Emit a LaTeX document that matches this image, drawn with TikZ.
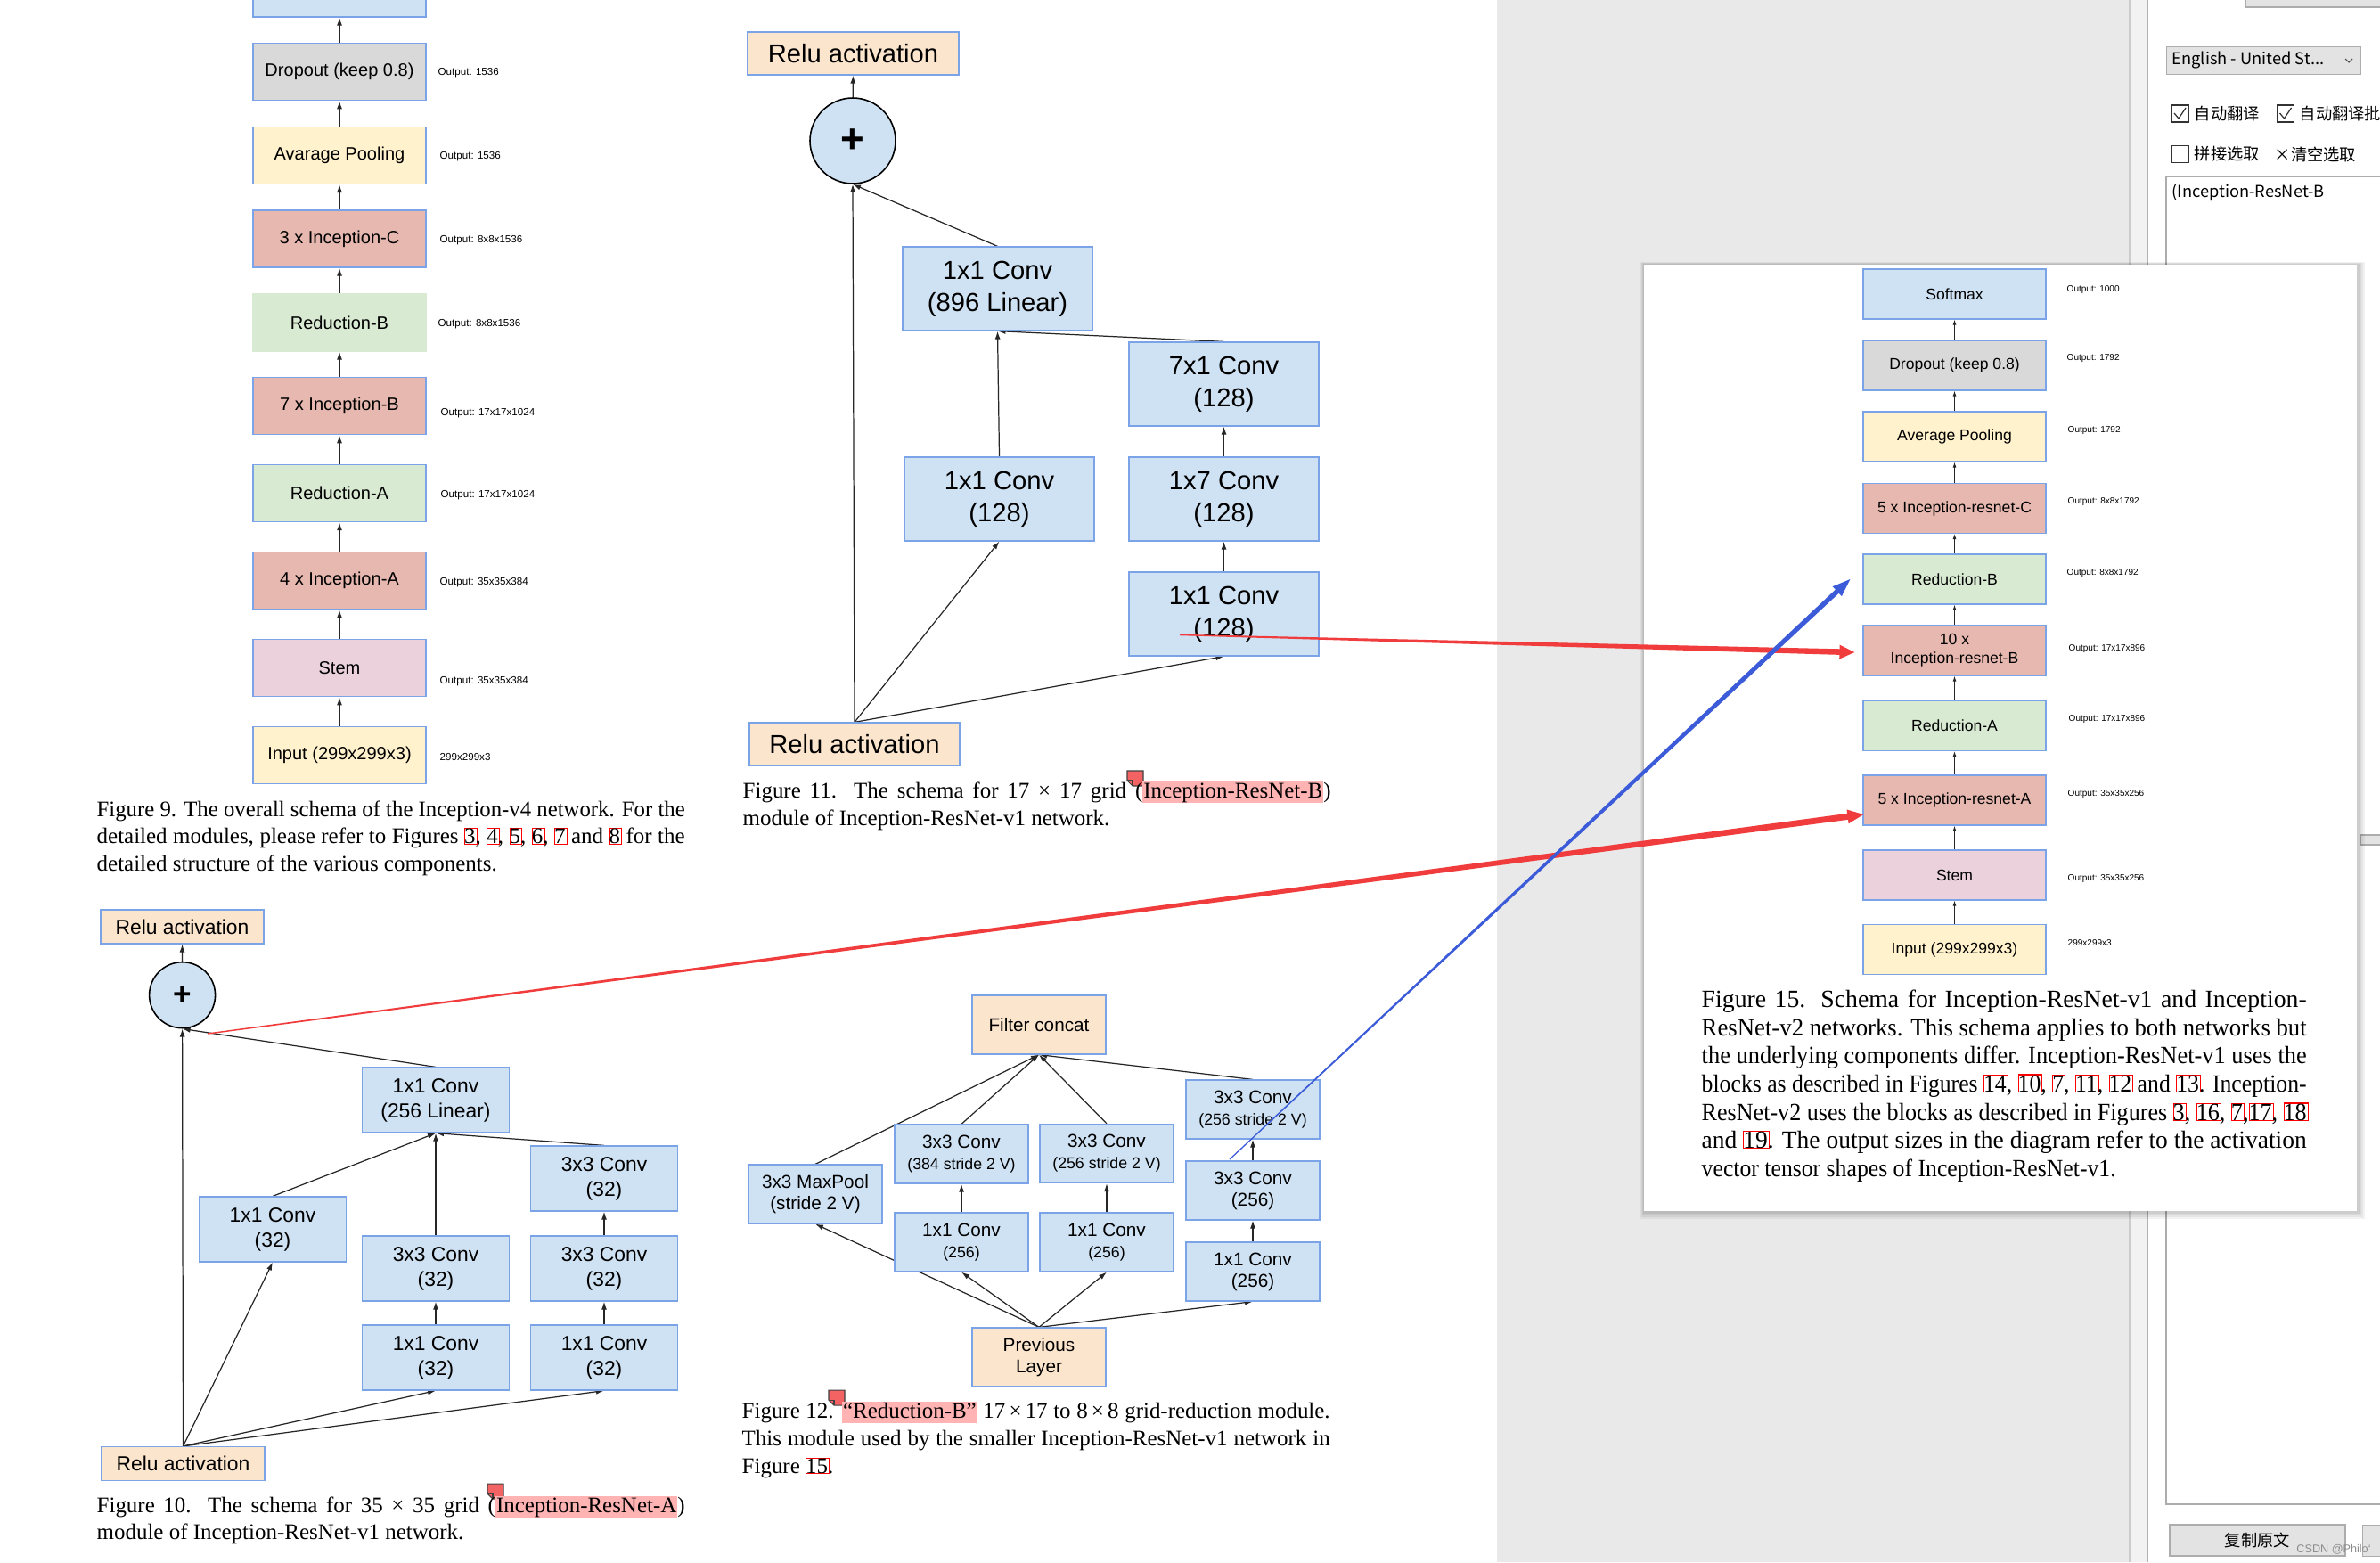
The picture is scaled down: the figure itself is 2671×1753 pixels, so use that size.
\documentclass[tikz,border=0pt]{standalone}
\usepackage{fontspec}
\usepackage{graphicx}
\setmainfont{Liberation Serif}
\setsansfont{Liberation Sans}
\newfontfamily\cjk{Noto Sans CJK SC}
\usetikzlibrary{arrows.meta,calc}
\definecolor{cbox}{HTML}{CFE2F3}
\definecolor{cline}{HTML}{7BA3E8}
\definecolor{cgray}{HTML}{D9D9D9}
\definecolor{cyel}{HTML}{FFF2CC}
\definecolor{csal}{HTML}{E6B8AF}
\definecolor{cgrn}{HTML}{D9EAD3}
\definecolor{cpink}{HTML}{EAD1DC}
\definecolor{cpeach}{HTML}{FCE5CD}
\definecolor{appgray}{HTML}{E9E9E9}
\definecolor{stripgray}{HTML}{F2F2F2}
\definecolor{annored}{HTML}{F03C3C}
\definecolor{annoblue}{HTML}{3B5BD9}
\definecolor{hlpink}{HTML}{FFB3B3}
\definecolor{linkred}{HTML}{FF0000}
\definecolor{uigray}{HTML}{E3E3E3}
\definecolor{uiline}{HTML}{ADADAD}
\pgfdeclarelayer{bg}
\pgfdeclarelayer{edges}
\pgfsetlayers{bg,edges,main}
\newcommand\rf[1]{\leavevmode\rlap{\color{linkred}\setlength\fboxsep{0pt}\setlength\fboxrule{0.3pt}\fbox{\phantom{#1}}}#1}
\newcommand\hl[1]{{\setlength\fboxsep{0.3pt}\colorbox{hlpink}{\vphantom{()}#1}}}
\newcommand\sm{\fontsize{5.05}{6.8}\selectfont}
\newlength\jw
\newcommand\jline[2]{\settowidth\jw{#2}\ifdim\jw>#1\relax\resizebox{#1}{\height}{#2}\else\makebox[#1][s]{#2}\fi}
\newcommand\sticky[2]{%
  \filldraw[fill=annored!80, draw=black!75, line width=0.3pt] (#1,#2) -- ++(18,0) -- ++(0,17) -- ++(-12,0) -- ++(-6,-6) -- cycle;
  \draw[black!75, line width=0.3pt] (#1,#2) ++(0,11) -- ++(6,0) -- ++(0,6);}
\newcommand\taper[7]{%
  \coordinate (tpH) at ($(#3)!#7!(#2)$);
  \fill[#1] ($(#2)!#4!90:(#3)$) -- ($(tpH)!#5!90:(#3)$) -- ($(tpH)!#6!90:(#3)$) -- (#3)
    -- ($(tpH)!#6!-90:(#3)$) -- ($(tpH)!#5!-90:(#3)$) -- ($(#2)!#4!-90:(#3)$) -- cycle;}
\begin{document}
\begin{tikzpicture}[x=0.1mm, y=-0.1mm,
  box/.style={draw=cline, line width=0.35pt, inner sep=0pt, align=center},
  v4box/.style={box, minimum width=19.4mm, minimum height=6.4mm, font=\sffamily\fontsize{5.7}{6.8}\selectfont},
  rnbox/.style={box, minimum width=20.5mm, minimum height=5.6mm, font=\sffamily\fontsize{5}{6}\selectfont},
  kbox/.style={box, fill=cbox, minimum width=21.3mm, minimum height=9.4mm, font=\sffamily\fontsize{8.3}{10.2}\selectfont},
  abox/.style={box, fill=cbox, minimum width=16.5mm, minimum height=7.3mm, font=\sffamily\fontsize{6.5}{7.9}\selectfont},
  rbox/.style={box, fill=cbox, minimum width=15mm, minimum height=6.6mm, font=\sffamily\fontsize{5.9}{6.8}\selectfont},
  sumnode/.style={circle, draw=black, fill=cbox, line width=0.45pt, inner sep=0pt, font=\sffamily\bfseries},
  outlbl/.style={anchor=west, inner sep=0pt, font=\sffamily\fontsize{3.3}{4}\selectfont},
  outlbs/.style={anchor=west, inner sep=0pt, font=\sffamily\fontsize{2.85}{3.5}\selectfont},
  arr/.style={-{Latex[length=0.9mm,width=0.6mm]}, line width=0.35pt, black!85},
  arrs/.style={-{Latex[length=0.6mm,width=0.4mm]}, line width=0.25pt, black!85},
  captxt/.style={anchor=base west, inner sep=0pt, font=\fontsize{7.1}{8.5}\selectfont},
  captxtr/.style={anchor=base west, inner sep=0pt, font=\fontsize{7.9}{9}\selectfont},
  ui/.style={anchor=west, inner sep=0pt, font=\cjk\fontsize{5.2}{6}\selectfont},
  chk/.style={draw=black!80, line width=0.3pt, fill=white, minimum size=1.9mm, inner sep=0pt}]
\useasboundingbox (0,0) rectangle (2671,1753);

%page, viewer and side panel
\begin{pgfonlayer}{bg}
  \fill[white] (0,0) rectangle (2671,1753);
  \fill[appgray] (1680,0) rectangle (2390,1753);
  \fill[stripgray] (2390,0) rectangle (2410,1753);
  \draw[black!20] (2390,0) -- (2390,1753);
  \draw[black!30] (2410,0) -- (2410,1753);
  \draw[uiline] (2690,198) -- (2431,198) -- (2431,1688) -- (2690,1688);
  \draw[uiline, fill=uigray] (2649,937) rectangle (2690,948);
  \foreach \s in {9,7,5,3}
    \fill[black, opacity=0.05] (1845-\s/2,297-\s/3) rectangle (2645+\s,1359+\s);
  \fill[white] (1845,297) rectangle (2645,1359);
\end{pgfonlayer}

\draw[uiline, fill=uigray] (2520,-5) rectangle (2690,8);
\node[draw=uiline, fill=uigray, anchor=north west, minimum width=21.8mm, minimum height=3.1mm] (langBox) at (2431,52) {};
\node[ui] (langTxt) at (2437,68) {English - United St...};
\draw[black!70, line width=0.3pt] (2632,66) -- (2636,70) -- (2640,66);
\node[chk] (chkA) at (2446.5,127.5) {};
\draw[black!80, line width=0.35pt] (2440,127) -- (2445,133) -- (2453,121);
\node[ui] (chkAtxt) at (2462,128) {自动翻译};
\node[chk] (chkB) at (2565,127.5) {};
\draw[black!80, line width=0.35pt] (2558.5,127) -- (2563.5,133) -- (2571.5,121);
\node[ui] (chkBtxt) at (2580,128) {自动翻译批};
\node[chk] (chkC) at (2446.5,173) {};
\node[ui] (chkCtxt) at (2462,173) {拼接选取};
\node[ui] (clearTxt) at (2552,173) {×清空选取};
\node[ui] (srcTxt) at (2437,216) {(Inception-ResNet-B};
\node[draw=uiline, fill=uigray, minimum width=19.7mm, minimum height=3.5mm, inner sep=0pt, font=\cjk\fontsize{5.2}{6}\selectfont] (copyBtn) at (2533.5,1728.5) {复制原文};
\node[draw=uiline, fill=uigray, anchor=north west, minimum width=4mm, minimum height=3.5mm] (nextBtn) at (2651,1711) {};
\node[inner sep=0pt, text=black!45, font=\sffamily\fontsize{3.6}{4}\selectfont] (mark) at (2619,1739) {CSDN @Philo`};

%figure 9
\node[v4box, fill=cbox] (vSoft) at (381,-13) {};
\node[v4box, fill=cgray] (vDrop) at (381,80.7) {Dropout (keep 0.8)};
\node[v4box, fill=cyel] (vPool) at (381,174.4) {Avarage Pooling};
\node[v4box, fill=csal] (vIncC) at (381,268) {3 x Inception-C};
\node[v4box, fill=cgrn, draw=cgrn] (vRedB) at (381,362) {Reduction-B};
\node[v4box, fill=csal] (vIncB) at (381,455.7) {7 x Inception-B};
\node[v4box, fill=cgrn] (vRedA) at (381,553.6) {Reduction-A};
\node[v4box, fill=csal] (vIncA) at (381,651.8) {4 x Inception-A};
\node[v4box, fill=cpink] (vStem) at (381,749.8) {Stem};
\node[v4box, fill=cyel] (vIn) at (381,847.6) {Input (299x299x3)};

\node[outlbl] (vOutDrop) at (491,82) {Output: 1536};
\node[outlbl] (vOutPool) at (493,175.4) {Output: 1536};
\node[outlbl] (vOutIncC) at (493,270) {Output: 8x8x1536};
\node[outlbl] (vOutRedB) at (491,363.5) {Output: 8x8x1536};
\node[outlbl] (vOutIncB) at (494,463.7) {Output: 17x17x1024};
\node[outlbl] (vOutRedA) at (494,555.5) {Output: 17x17x1024};
\node[outlbl] (vOutIncA) at (493,653.7) {Output: 35x35x384};
\node[outlbl] (vOutStem) at (493,764.7) {Output: 35x35x384};
\node[outlbl] (vOutIn) at (493,849.5) {299x299x3};

\draw[arr] (vIn) -- (vStem);
\draw[arr] (vStem) -- (vIncA);
\draw[arr] (vIncA) -- (vRedA);
\draw[arr] (vRedA) -- (vIncB);
\draw[arr] (vIncB) -- (vRedB);
\draw[arr] (vRedB) -- (vIncC);
\draw[arr] (vIncC) -- (vPool);
\draw[arr] (vPool) -- (vDrop);
\draw[arr] (vDrop) -- (vSoft);

\node[captxt] (cap9a) at (108,916) {\jline{66mm}{Figure 9. The overall schema of the Inception-v4 network. For the}};
\node[captxt] (cap9b) at (108,946.5) {\jline{66mm}{detailed modules, please refer to Figures \rf{3}, \rf{4}, \rf{5}, \rf{6}, \rf{7} and \rf{8} for the}};
\node[captxt] (cap9c) at (108,977.7) {detailed structure of the various components.};

%figure 11
\node[kbox, fill=cpeach, minimum width=23.7mm, minimum height=4.8mm] (kReluT) at (957.5,60) {Relu activation};
\node[sumnode, minimum size=9.6mm, font=\sffamily\bfseries\fontsize{13}{13}\selectfont] (kSum) at (957,158) {+};
\node[kbox] (kLin) at (1119.5,324) {1x1 Conv\\(896 Linear)};
\node[kbox] (k7x1) at (1373.5,431) {7x1 Conv\\(128)};
\node[kbox] (kA1) at (1121.5,560) {1x1 Conv\\(128)};
\node[kbox] (k1x7) at (1373.5,560) {1x7 Conv\\(128)};
\node[kbox] (kB1) at (1373.5,689) {1x1 Conv\\(128)};
\node[kbox, fill=cpeach, minimum width=23.6mm, minimum height=4.8mm] (kReluB) at (959,835) {Relu activation};

\begin{pgfonlayer}{edges}
  \draw[arr] (kSum) -- (kReluT);
  \draw[arr] (kLin.north) -- (kSum.south);
  \draw[arr] (kReluB.north) -- (kSum.south);
  \draw[arr] (kA1.north) -- (kLin.south);
  \draw[arr] (k7x1.north) -- (kLin.south);
  \draw[arr] (k1x7) -- (k7x1);
  \draw[arr] (kB1) -- (k1x7);
  \draw[arr] (kReluB.north) -- (kA1.south);
  \draw[arr] (kReluB.north) -- (kB1.south);
\end{pgfonlayer}

\sticky{1265}{865}
\node[captxt] (cap11a) at (833,895) {\jline{66mm}{Figure 11. The schema for 17 × 17 grid (\hl{Inception-ResNet-B})}};
\node[captxt] (cap11b) at (833,926) {module of Inception-ResNet-v1 network.};

%figure 10
\node[abox, fill=cpeach, minimum width=18.3mm, minimum height=3.8mm] (aReluT) at (204.5,1040) {Relu activation};
\node[sumnode, minimum size=7.4mm, font=\sffamily\bfseries\fontsize{10}{10}\selectfont] (aSum) at (204.6,1116.7) {+};
\node[abox] (aLin) at (489,1234.5) {1x1 Conv\\(256 Linear)};
\node[abox] (aC3b) at (678,1322.5) {3x3 Conv\\(32)};
\node[abox] (aL1) at (306,1379.5) {1x1 Conv\\(32)};
\node[abox] (aM3) at (489,1423.5) {3x3 Conv\\(32)};
\node[abox] (aC3a) at (678,1423.5) {3x3 Conv\\(32)};
\node[abox] (aM1) at (489,1523.5) {1x1 Conv\\(32)};
\node[abox] (aR1) at (678,1523.5) {1x1 Conv\\(32)};
\node[abox, fill=cpeach, minimum width=18.3mm, minimum height=3.8mm] (aReluB) at (205.5,1642.5) {Relu activation};

\begin{pgfonlayer}{edges}
  \draw[arr] (aSum) -- (aReluT);
  \draw[arr] (aLin.north) -- (aSum.south);
  \draw[arr] (aReluB.north) -- (aSum.south);
  \draw[arr] (aL1.north) -- (aLin.south);
  \draw[arr] (aM3) -- (aLin);
  \draw[arr] (aC3b.north) -- (aLin.south);
  \draw[arr] (aC3a) -- (aC3b);
  \draw[arr] (aM1) -- (aM3);
  \draw[arr] (aR1) -- (aC3a);
  \draw[arr] (aReluB.north) -- (aL1.south);
  \draw[arr] (aReluB.north) -- (aM1.south);
  \draw[arr] (aReluB.north) -- (aR1.south);
\end{pgfonlayer}

\sticky{547}{1665}
\node[captxt] (cap10a) at (108,1697) {\jline{66mm}{Figure 10. The schema for 35 × 35 grid (\hl{Inception-ResNet-A})}};
\node[captxt] (cap10b) at (108,1727) {module of Inception-ResNet-v1 network.};

%figure 12
\node[rbox, fill=cpeach] (cCat) at (1166,1150) {Filter concat};
\node[rbox] (cPool) at (915,1340) {3x3 MaxPool\\(stride 2 V)};
\node[rbox] (cA3) at (1079,1295) {3x3 Conv\\{\sm(384 stride 2 V)}};
\node[rbox] (cB3) at (1242,1294.5) {3x3 Conv\\{\sm(256 stride 2 V)}};
\node[rbox] (cC3b) at (1406,1245) {3x3 Conv\\{\sm(256 stride 2 V)}};
\node[rbox] (cC3a) at (1406,1336) {3x3 Conv\\(256)};
\node[rbox] (cA1) at (1079,1394) {1x1 Conv\\{\sm(256)}};
\node[rbox] (cB1) at (1242,1394) {1x1 Conv\\{\sm(256)}};
\node[rbox] (cC1) at (1406,1427) {1x1 Conv\\(256)};
\node[rbox, fill=cpeach] (cPrev) at (1166,1523) {Previous\\Layer};

\begin{pgfonlayer}{edges}
  \draw[arr] (cPool.north) -- (cCat.south);
  \draw[arr] (cA3.north) -- (cCat.south);
  \draw[arr] (cB3.north) -- (cCat.south);
  \draw[arr] (cC3b.north) -- (cCat.south);
  \draw[arr] (cA1) -- (cA3);
  \draw[arr] (cB1) -- (cB3);
  \draw[arr] (cC3a) -- (cC3b);
  \draw[arr] (cC1) -- (cC3a);
  \draw[arr] (cPrev.north) -- (cPool.south);
  \draw[arr] (cPrev.north) -- (cA1.south);
  \draw[arr] (cPrev.north) -- (cB1.south);
  \draw[arr] (cPrev.north) -- (cC1.south);
\end{pgfonlayer}

\sticky{930}{1560}
\node[captxt] (cap12a) at (832,1591) {\jline{66mm}{Figure 12. \hl{“Reduction-B”} 17\,×\,17 to 8\,×\,8 grid-reduction module.}};
\node[captxt] (cap12b) at (832,1622) {\jline{66mm}{This module used by the smaller Inception-ResNet-v1 network in}};
\node[captxt] (cap12c) at (832,1653) {Figure \rf{15}.};

%figure 15
\node[rnbox, fill=cbox] (fSoft) at (2193.5,330) {Softmax};
\node[rnbox, fill=cgray] (fDrop) at (2193.5,410) {Dropout (keep 0.8)};
\node[rnbox, fill=cyel] (fPool) at (2193.5,490) {Average Pooling};
\node[rnbox, fill=csal] (fIRC) at (2193.5,570.5) {5 x Inception-resnet-C};
\node[rnbox, fill=cgrn] (fRedB) at (2193.5,650) {Reduction-B};
\node[rnbox, fill=csal] (fIRB) at (2193.5,730) {10 x\\Inception-resnet-B};
\node[rnbox, fill=cgrn] (fRedA) at (2193.5,814.5) {Reduction-A};
\node[rnbox, fill=csal] (fIRA) at (2193.5,898) {5 x Inception-resnet-A};
\node[rnbox, fill=cpink] (fStem) at (2193.5,982) {Stem};
\node[rnbox, fill=cyel] (fIn) at (2193.5,1065.5) {Input (299x299x3)};

\node[outlbs] (fOutSoft) at (2319,325) {Output: 1000};
\node[outlbs] (fOutDrop) at (2319,402) {Output: 1792};
\node[outlbs] (fOutPool) at (2320,483) {Output: 1792};
\node[outlbs] (fOutIRC) at (2320,563) {Output: 8x8x1792};
\node[outlbs] (fOutRedB) at (2319,643) {Output: 8x8x1792};
\node[outlbs] (fOutIRB) at (2321,728) {Output: 17x17x896};
\node[outlbs] (fOutRedA) at (2321,807) {Output: 17x17x896};
\node[outlbs] (fOutIRA) at (2320,891) {Output: 35x35x256};
\node[outlbs] (fOutStem) at (2320,986) {Output: 35x35x256};
\node[outlbs] (fOutIn) at (2320,1058) {299x299x3};

\begin{pgfonlayer}{edges}
  \draw[arrs] (fIn) -- (fStem);
  \draw[arrs] (fStem) -- (fIRA);
  \draw[arrs] (fIRA) -- (fRedA);
  \draw[arrs] (fRedA) -- (fIRB);
  \draw[arrs] (fIRB) -- (fRedB);
  \draw[arrs] (fRedB) -- (fIRC);
  \draw[arrs] (fIRC) -- (fPool);
  \draw[arrs] (fPool) -- (fDrop);
  \draw[arrs] (fDrop) -- (fSoft);
\end{pgfonlayer}

\node[captxtr] (cap15a) at (1909,1130) {\jline{67.9mm}{Figure 15. Schema for Inception-ResNet-v1 and Inception-}};
\node[captxtr] (cap15b) at (1909,1162) {\jline{67.9mm}{ResNet-v2 networks. This schema applies to both networks but}};
\node[captxtr] (cap15c) at (1909,1193) {\jline{67.9mm}{the underlying components differ. Inception-ResNet-v1 uses the}};
\node[captxtr] (cap15d) at (1909,1225) {\jline{67.9mm}{blocks as described in Figures \rf{14}, \rf{10}, \rf{7}, \rf{11}, \rf{12} and \rf{13}. Inception-}};
\node[captxtr] (cap15e) at (1909,1257) {\jline{67.9mm}{ResNet-v2 uses the blocks as described in Figures \rf{3}, \rf{16}, \rf{7},\rf{17}, \rf{18}}};
\node[captxtr] (cap15f) at (1909,1288) {\jline{67.9mm}{and \rf{19}. The output sizes in the diagram refer to the activation}};
\node[captxtr] (cap15g) at (1909,1320) {\resizebox{46.5mm}{\height}{vector tensor shapes of Inception-ResNet-v1.}};

%hand drawn arrows
\coordinate (redOneS) at (1324,712.5);
\coordinate (redOneT) at ($(fIRB.west)+(-9,2)$);
\taper{annored}{redOneS}{redOneT}{0.07mm}{0.33mm}{0.8mm}{1.7mm}
\coordinate (redTwoS) at (233,1160);
\coordinate (redTwoT) at ($(fIRA.west)+(1,16)$);
\taper{annored}{redTwoS}{redTwoT}{0.07mm}{0.35mm}{0.8mm}{1.8mm}
\coordinate (blueS) at (1380,1301);
\coordinate (blueT) at ($(fRedB.west)+(-14,0)$);
\taper{annoblue}{blueS}{blueT}{0.06mm}{0.28mm}{0.75mm}{2mm}
\end{tikzpicture}
\end{document}
